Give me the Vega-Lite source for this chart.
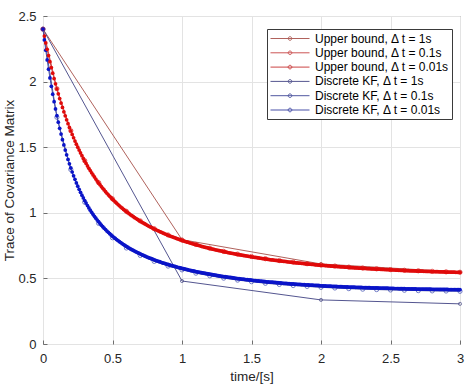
{
"$schema":"https://vega.github.io/schema/vega-lite/v6.json",
"width":417,"height":328,
"autosize":{"type":"none"},
"padding":{"left":43,"top":16,"right":14,"bottom":44},
"config":{"font":"Liberation Sans","view":{"stroke":"#6e6e6e","strokeWidth":1}},
"datasets":{
"coarse":[{"t":0,"U1":2.4,"K1":2.4},{"t":1,"U1":0.795,"K1":0.48},{"t":2,"U1":0.61,"K1":0.336},{"t":3,"U1":0.548,"K1":0.306}],
"mid":[{"t":0,"U01":2.4,"K01":2.4},{"t":0.1,"U01":1.946,"K01":1.728},{"t":0.2,"U01":1.626,"K01":1.33},{"t":0.3,"U01":1.397,"K01":1.081},{"t":0.4,"U01":1.23,"K01":0.92},{"t":0.5,"U01":1.106,"K01":0.81},{"t":0.6,"U01":1.011,"K01":0.732},{"t":0.7,"U01":0.938,"K01":0.675},{"t":0.8,"U01":0.879,"K01":0.63},{"t":0.9,"U01":0.831,"K01":0.594},{"t":1,"U01":0.792,"K01":0.565},{"t":1.1,"U01":0.759,"K01":0.54},{"t":1.2,"U01":0.73,"K01":0.52},{"t":1.3,"U01":0.706,"K01":0.502},{"t":1.4,"U01":0.685,"K01":0.487},{"t":1.5,"U01":0.667,"K01":0.475},{"t":1.6,"U01":0.65,"K01":0.463},{"t":1.7,"U01":0.636,"K01":0.454},{"t":1.8,"U01":0.624,"K01":0.446},{"t":1.9,"U01":0.612,"K01":0.439},{"t":2,"U01":0.602,"K01":0.432},{"t":2.1,"U01":0.594,"K01":0.427},{"t":2.2,"U01":0.586,"K01":0.422},{"t":2.3,"U01":0.579,"K01":0.418},{"t":2.4,"U01":0.573,"K01":0.415},{"t":2.5,"U01":0.567,"K01":0.412},{"t":2.6,"U01":0.562,"K01":0.41},{"t":2.7,"U01":0.558,"K01":0.407},{"t":2.8,"U01":0.554,"K01":0.405},{"t":2.9,"U01":0.55,"K01":0.404},{"t":3,"U01":0.547,"K01":0.402}],
"dense":[
{"t":0,"U001":2.4,"K001":2.4},{"t":0.01,"U001":2.347,"K001":2.318},{"t":0.02,"U001":2.295,"K001":2.239},{"t":0.03,"U001":2.246,"K001":2.165},{"t":0.04,"U001":2.198,"K001":2.095},{"t":0.05,"U001":2.152,"K001":2.028},{"t":0.06,"U001":2.107,"K001":1.964},{"t":0.07,"U001":2.064,"K001":1.904},{"t":0.08,"U001":2.023,"K001":1.847},{"t":0.09,"U001":1.983,"K001":1.792},
{"t":0.1,"U001":1.944,"K001":1.74},{"t":0.11,"U001":1.907,"K001":1.691},{"t":0.12,"U001":1.871,"K001":1.644},{"t":0.13,"U001":1.836,"K001":1.6},{"t":0.14,"U001":1.803,"K001":1.557},{"t":0.15,"U001":1.77,"K001":1.517},{"t":0.16,"U001":1.739,"K001":1.478},{"t":0.17,"U001":1.709,"K001":1.442},{"t":0.18,"U001":1.679,"K001":1.407},{"t":0.19,"U001":1.651,"K001":1.373},
{"t":0.2,"U001":1.624,"K001":1.342},{"t":0.21,"U001":1.597,"K001":1.311},{"t":0.22,"U001":1.572,"K001":1.282},{"t":0.23,"U001":1.547,"K001":1.255},{"t":0.24,"U001":1.523,"K001":1.228},{"t":0.25,"U001":1.5,"K001":1.203},{"t":0.26,"U001":1.478,"K001":1.179},{"t":0.27,"U001":1.456,"K001":1.156},{"t":0.28,"U001":1.435,"K001":1.134},{"t":0.29,"U001":1.414,"K001":1.113},
{"t":0.3,"U001":1.395,"K001":1.093},{"t":0.31,"U001":1.376,"K001":1.074},{"t":0.32,"U001":1.357,"K001":1.055},{"t":0.33,"U001":1.339,"K001":1.037},{"t":0.34,"U001":1.322,"K001":1.02},{"t":0.35,"U001":1.305,"K001":1.004},{"t":0.36,"U001":1.289,"K001":0.988},{"t":0.37,"U001":1.273,"K001":0.973},{"t":0.38,"U001":1.257,"K001":0.959},{"t":0.39,"U001":1.242,"K001":0.945},
{"t":0.4,"U001":1.228,"K001":0.932},{"t":0.41,"U001":1.214,"K001":0.919},{"t":0.42,"U001":1.2,"K001":0.906},{"t":0.43,"U001":1.187,"K001":0.894},{"t":0.44,"U001":1.174,"K001":0.883},{"t":0.45,"U001":1.161,"K001":0.872},{"t":0.46,"U001":1.149,"K001":0.861},{"t":0.47,"U001":1.137,"K001":0.851},{"t":0.48,"U001":1.126,"K001":0.841},{"t":0.49,"U001":1.115,"K001":0.831},
{"t":0.5,"U001":1.104,"K001":0.822},{"t":0.51,"U001":1.093,"K001":0.813},{"t":0.52,"U001":1.083,"K001":0.805},{"t":0.53,"U001":1.073,"K001":0.796},{"t":0.54,"U001":1.063,"K001":0.788},{"t":0.55,"U001":1.053,"K001":0.78},{"t":0.56,"U001":1.044,"K001":0.773},{"t":0.57,"U001":1.035,"K001":0.765},{"t":0.58,"U001":1.026,"K001":0.758},{"t":0.59,"U001":1.018,"K001":0.751},
{"t":0.6,"U001":1.009,"K001":0.744},{"t":0.61,"U001":1.001,"K001":0.738},{"t":0.62,"U001":0.993,"K001":0.731},{"t":0.63,"U001":0.985,"K001":0.725},{"t":0.64,"U001":0.978,"K001":0.719},{"t":0.65,"U001":0.97,"K001":0.713},{"t":0.66,"U001":0.963,"K001":0.708},{"t":0.67,"U001":0.956,"K001":0.702},{"t":0.68,"U001":0.949,"K001":0.697},{"t":0.69,"U001":0.942,"K001":0.692},
{"t":0.7,"U001":0.936,"K001":0.687},{"t":0.71,"U001":0.929,"K001":0.682},{"t":0.72,"U001":0.923,"K001":0.677},{"t":0.73,"U001":0.917,"K001":0.672},{"t":0.74,"U001":0.911,"K001":0.667},{"t":0.75,"U001":0.905,"K001":0.663},{"t":0.76,"U001":0.899,"K001":0.658},{"t":0.77,"U001":0.893,"K001":0.654},{"t":0.78,"U001":0.888,"K001":0.65},{"t":0.79,"U001":0.882,"K001":0.646},
{"t":0.8,"U001":0.877,"K001":0.642},{"t":0.81,"U001":0.872,"K001":0.638},{"t":0.82,"U001":0.867,"K001":0.634},{"t":0.83,"U001":0.862,"K001":0.63},{"t":0.84,"U001":0.857,"K001":0.627},{"t":0.85,"U001":0.852,"K001":0.623},{"t":0.86,"U001":0.847,"K001":0.619},{"t":0.87,"U001":0.843,"K001":0.616},{"t":0.88,"U001":0.838,"K001":0.613},{"t":0.89,"U001":0.834,"K001":0.609},
{"t":0.9,"U001":0.829,"K001":0.606},{"t":0.91,"U001":0.825,"K001":0.603},{"t":0.92,"U001":0.821,"K001":0.6},{"t":0.93,"U001":0.817,"K001":0.597},{"t":0.94,"U001":0.813,"K001":0.594},{"t":0.95,"U001":0.809,"K001":0.591},{"t":0.96,"U001":0.805,"K001":0.588},{"t":0.97,"U001":0.801,"K001":0.585},{"t":0.98,"U001":0.797,"K001":0.582},{"t":0.99,"U001":0.793,"K001":0.58},
{"t":1,"U001":0.79,"K001":0.577},{"t":1.01,"U001":0.786,"K001":0.574},{"t":1.02,"U001":0.783,"K001":0.572},{"t":1.03,"U001":0.779,"K001":0.569},{"t":1.04,"U001":0.776,"K001":0.567},{"t":1.05,"U001":0.773,"K001":0.564},{"t":1.06,"U001":0.769,"K001":0.562},{"t":1.07,"U001":0.766,"K001":0.559},{"t":1.08,"U001":0.763,"K001":0.557},{"t":1.09,"U001":0.76,"K001":0.555},
{"t":1.1,"U001":0.757,"K001":0.552},{"t":1.11,"U001":0.754,"K001":0.55},{"t":1.12,"U001":0.751,"K001":0.548},{"t":1.13,"U001":0.748,"K001":0.546},{"t":1.14,"U001":0.745,"K001":0.544},{"t":1.15,"U001":0.742,"K001":0.542},{"t":1.16,"U001":0.739,"K001":0.54},{"t":1.17,"U001":0.736,"K001":0.538},{"t":1.18,"U001":0.734,"K001":0.536},{"t":1.19,"U001":0.731,"K001":0.534},
{"t":1.2,"U001":0.728,"K001":0.532},{"t":1.21,"U001":0.726,"K001":0.53},{"t":1.22,"U001":0.723,"K001":0.528},{"t":1.23,"U001":0.721,"K001":0.526},{"t":1.24,"U001":0.718,"K001":0.525},{"t":1.25,"U001":0.716,"K001":0.523},{"t":1.26,"U001":0.713,"K001":0.521},{"t":1.27,"U001":0.711,"K001":0.519},{"t":1.28,"U001":0.709,"K001":0.518},{"t":1.29,"U001":0.706,"K001":0.516},
{"t":1.3,"U001":0.704,"K001":0.514},{"t":1.31,"U001":0.702,"K001":0.513},{"t":1.32,"U001":0.7,"K001":0.511},{"t":1.33,"U001":0.697,"K001":0.51},{"t":1.34,"U001":0.695,"K001":0.508},{"t":1.35,"U001":0.693,"K001":0.507},{"t":1.36,"U001":0.691,"K001":0.505},{"t":1.37,"U001":0.689,"K001":0.504},{"t":1.38,"U001":0.687,"K001":0.502},{"t":1.39,"U001":0.685,"K001":0.501},
{"t":1.4,"U001":0.683,"K001":0.499},{"t":1.41,"U001":0.681,"K001":0.498},{"t":1.42,"U001":0.679,"K001":0.497},{"t":1.43,"U001":0.677,"K001":0.495},{"t":1.44,"U001":0.675,"K001":0.494},{"t":1.45,"U001":0.673,"K001":0.493},{"t":1.46,"U001":0.672,"K001":0.491},{"t":1.47,"U001":0.67,"K001":0.49},{"t":1.48,"U001":0.668,"K001":0.489},{"t":1.49,"U001":0.666,"K001":0.488},
{"t":1.5,"U001":0.665,"K001":0.487},{"t":1.51,"U001":0.663,"K001":0.485},{"t":1.52,"U001":0.661,"K001":0.484},{"t":1.53,"U001":0.66,"K001":0.483},{"t":1.54,"U001":0.658,"K001":0.482},{"t":1.55,"U001":0.656,"K001":0.481},{"t":1.56,"U001":0.655,"K001":0.48},{"t":1.57,"U001":0.653,"K001":0.479},{"t":1.58,"U001":0.651,"K001":0.478},{"t":1.59,"U001":0.65,"K001":0.477},
{"t":1.6,"U001":0.648,"K001":0.475},{"t":1.61,"U001":0.647,"K001":0.474},{"t":1.62,"U001":0.645,"K001":0.473},{"t":1.63,"U001":0.644,"K001":0.472},{"t":1.64,"U001":0.642,"K001":0.471},{"t":1.65,"U001":0.641,"K001":0.471},{"t":1.66,"U001":0.64,"K001":0.47},{"t":1.67,"U001":0.638,"K001":0.469},{"t":1.68,"U001":0.637,"K001":0.468},{"t":1.69,"U001":0.635,"K001":0.467},
{"t":1.7,"U001":0.634,"K001":0.466},{"t":1.71,"U001":0.633,"K001":0.465},{"t":1.72,"U001":0.631,"K001":0.464},{"t":1.73,"U001":0.63,"K001":0.463},{"t":1.74,"U001":0.629,"K001":0.462},{"t":1.75,"U001":0.628,"K001":0.462},{"t":1.76,"U001":0.626,"K001":0.461},{"t":1.77,"U001":0.625,"K001":0.46},{"t":1.78,"U001":0.624,"K001":0.459},{"t":1.79,"U001":0.623,"K001":0.458},
{"t":1.8,"U001":0.622,"K001":0.458},{"t":1.81,"U001":0.62,"K001":0.457},{"t":1.82,"U001":0.619,"K001":0.456},{"t":1.83,"U001":0.618,"K001":0.455},{"t":1.84,"U001":0.617,"K001":0.455},{"t":1.85,"U001":0.616,"K001":0.454},{"t":1.86,"U001":0.615,"K001":0.453},{"t":1.87,"U001":0.614,"K001":0.453},{"t":1.88,"U001":0.612,"K001":0.452},{"t":1.89,"U001":0.611,"K001":0.451},
{"t":1.9,"U001":0.61,"K001":0.451},{"t":1.91,"U001":0.609,"K001":0.45},{"t":1.92,"U001":0.608,"K001":0.449},{"t":1.93,"U001":0.607,"K001":0.449},{"t":1.94,"U001":0.606,"K001":0.448},{"t":1.95,"U001":0.605,"K001":0.447},{"t":1.96,"U001":0.604,"K001":0.447},{"t":1.97,"U001":0.603,"K001":0.446},{"t":1.98,"U001":0.602,"K001":0.446},{"t":1.99,"U001":0.601,"K001":0.445},
{"t":2,"U001":0.6,"K001":0.444},{"t":2.01,"U001":0.6,"K001":0.444},{"t":2.02,"U001":0.599,"K001":0.443},{"t":2.03,"U001":0.598,"K001":0.443},{"t":2.04,"U001":0.597,"K001":0.442},{"t":2.05,"U001":0.596,"K001":0.442},{"t":2.06,"U001":0.595,"K001":0.441},{"t":2.07,"U001":0.594,"K001":0.441},{"t":2.08,"U001":0.593,"K001":0.44},{"t":2.09,"U001":0.592,"K001":0.44},
{"t":2.1,"U001":0.592,"K001":0.439},{"t":2.11,"U001":0.591,"K001":0.439},{"t":2.12,"U001":0.59,"K001":0.438},{"t":2.13,"U001":0.589,"K001":0.438},{"t":2.14,"U001":0.588,"K001":0.437},{"t":2.15,"U001":0.588,"K001":0.437},{"t":2.16,"U001":0.587,"K001":0.436},{"t":2.17,"U001":0.586,"K001":0.436},{"t":2.18,"U001":0.585,"K001":0.435},{"t":2.19,"U001":0.585,"K001":0.435},
{"t":2.2,"U001":0.584,"K001":0.434},{"t":2.21,"U001":0.583,"K001":0.434},{"t":2.22,"U001":0.582,"K001":0.434},{"t":2.23,"U001":0.582,"K001":0.433},{"t":2.24,"U001":0.581,"K001":0.433},{"t":2.25,"U001":0.58,"K001":0.432},{"t":2.26,"U001":0.58,"K001":0.432},{"t":2.27,"U001":0.579,"K001":0.432},{"t":2.28,"U001":0.578,"K001":0.431},{"t":2.29,"U001":0.578,"K001":0.431},
{"t":2.3,"U001":0.577,"K001":0.43},{"t":2.31,"U001":0.576,"K001":0.43},{"t":2.32,"U001":0.576,"K001":0.43},{"t":2.33,"U001":0.575,"K001":0.429},{"t":2.34,"U001":0.574,"K001":0.429},{"t":2.35,"U001":0.574,"K001":0.429},{"t":2.36,"U001":0.573,"K001":0.428},{"t":2.37,"U001":0.572,"K001":0.428},{"t":2.38,"U001":0.572,"K001":0.428},{"t":2.39,"U001":0.571,"K001":0.427},
{"t":2.4,"U001":0.571,"K001":0.427},{"t":2.41,"U001":0.57,"K001":0.427},{"t":2.42,"U001":0.57,"K001":0.426},{"t":2.43,"U001":0.569,"K001":0.426},{"t":2.44,"U001":0.568,"K001":0.426},{"t":2.45,"U001":0.568,"K001":0.426},{"t":2.46,"U001":0.567,"K001":0.425},{"t":2.47,"U001":0.567,"K001":0.425},{"t":2.48,"U001":0.566,"K001":0.425},{"t":2.49,"U001":0.566,"K001":0.424},
{"t":2.5,"U001":0.565,"K001":0.424},{"t":2.51,"U001":0.565,"K001":0.424},{"t":2.52,"U001":0.564,"K001":0.424},{"t":2.53,"U001":0.564,"K001":0.423},{"t":2.54,"U001":0.563,"K001":0.423},{"t":2.55,"U001":0.563,"K001":0.423},{"t":2.56,"U001":0.562,"K001":0.422},{"t":2.57,"U001":0.562,"K001":0.422},{"t":2.58,"U001":0.561,"K001":0.422},{"t":2.59,"U001":0.561,"K001":0.422},
{"t":2.6,"U001":0.56,"K001":0.422},{"t":2.61,"U001":0.56,"K001":0.421},{"t":2.62,"U001":0.559,"K001":0.421},{"t":2.63,"U001":0.559,"K001":0.421},{"t":2.64,"U001":0.558,"K001":0.421},{"t":2.65,"U001":0.558,"K001":0.42},{"t":2.66,"U001":0.558,"K001":0.42},{"t":2.67,"U001":0.557,"K001":0.42},{"t":2.68,"U001":0.557,"K001":0.42},{"t":2.69,"U001":0.556,"K001":0.419},
{"t":2.7,"U001":0.556,"K001":0.419},{"t":2.71,"U001":0.555,"K001":0.419},{"t":2.72,"U001":0.555,"K001":0.419},{"t":2.73,"U001":0.555,"K001":0.419},{"t":2.74,"U001":0.554,"K001":0.418},{"t":2.75,"U001":0.554,"K001":0.418},{"t":2.76,"U001":0.553,"K001":0.418},{"t":2.77,"U001":0.553,"K001":0.418},{"t":2.78,"U001":0.553,"K001":0.418},{"t":2.79,"U001":0.552,"K001":0.418},
{"t":2.8,"U001":0.552,"K001":0.417},{"t":2.81,"U001":0.552,"K001":0.417},{"t":2.82,"U001":0.551,"K001":0.417},{"t":2.83,"U001":0.551,"K001":0.417},{"t":2.84,"U001":0.551,"K001":0.417},{"t":2.85,"U001":0.55,"K001":0.416},{"t":2.86,"U001":0.55,"K001":0.416},{"t":2.87,"U001":0.55,"K001":0.416},{"t":2.88,"U001":0.549,"K001":0.416},{"t":2.89,"U001":0.549,"K001":0.416},
{"t":2.9,"U001":0.548,"K001":0.416},{"t":2.91,"U001":0.548,"K001":0.416},{"t":2.92,"U001":0.548,"K001":0.415},{"t":2.93,"U001":0.548,"K001":0.415},{"t":2.94,"U001":0.547,"K001":0.415},{"t":2.95,"U001":0.547,"K001":0.415},{"t":2.96,"U001":0.547,"K001":0.415},{"t":2.97,"U001":0.546,"K001":0.415},{"t":2.98,"U001":0.546,"K001":0.415},{"t":2.99,"U001":0.546,"K001":0.414},
{"t":3,"U001":0.545,"K001":0.414}
]},
"encoding":{
"x":{"field":"t","type":"quantitative","scale":{"domain":[0,3],"nice":false},
"axis":{"title":"time/[s]","values":[0,0.5,1,1.5,2,2.5,3],"format":".1~f","domain":false,"grid":true,"gridColor":"#e3e3e3","tickColor":"#6e6e6e","tickSize":-4,"labelPadding":12,"labelFontSize":13,"labelColor":"#262626","labelFlush":false,"titleFontSize":13.5,"titleFontWeight":"normal","titleColor":"#262626","titlePadding":4}},
"y":{"field":"v","type":"quantitative","scale":{"domain":[0,2.5],"nice":false},
"axis":{"title":"Trace of Covariance Matrix","values":[0,0.5,1,1.5,2,2.5],"format":".1~f","domain":false,"grid":true,"gridColor":"#e3e3e3","tickColor":"#6e6e6e","tickSize":-4,"labelPadding":11,"labelFontSize":13,"labelColor":"#262626","labelFlush":false,"titleFontSize":13.5,"titleFontWeight":"normal","titleColor":"#262626","titlePadding":1}}
},
"layer":[
{"data":{"name":"coarse"},"transform":[{"fold":["U1","K1"],"as":["s","v"]}],"mark":{"type":"line","strokeWidth":1},
"encoding":{"color":{"field":"s","type":"nominal","scale":{"domain":["U1","U01","U001","K1","K01","K001"],"range":["#b0625c","#cc5555","#cc4444","#545690","#5058a0","#4850a8"]},
"legend":{"orient":"none","legendX":224,"legendY":13,"title":null,"symbolType":"M-3.25,0H3.25M0.3,0A0.3,0.3,0,1,1,-0.3,0A0.3,0.3,0,1,1,0.3,0","symbolSize":144,"symbolOffset":13.5,"symbolStrokeWidth":1,"labelFont":"Liberation Sans","labelFontSize":12,"labelColor":"#000000","labelOffset":18.5,"rowPadding":1.3,"padding":3,"strokeColor":"#3a3a3a","fillColor":"#ffffff",
"labelExpr":"(datum.value=='U1'?'Upper bound, Δ t = 1s':datum.value=='U01'?'Upper bound, Δ t = 0.1s':datum.value=='U001'?'Upper bound, Δ t = 0.01s':datum.value=='K1'?'Discrete KF, Δ t = 1s':datum.value=='K01'?'Discrete KF, Δ t = 0.1s':'Discrete KF, Δ t = 0.01s')+'\u00a0\u00a0\u00a0'"}}}},
{"data":{"name":"coarse"},"transform":[{"fold":["U1","K1"],"as":["s","v"]}],"mark":{"type":"point","filled":false,"size":10,"strokeWidth":1},
"encoding":{"stroke":{"field":"s","type":"nominal","scale":{"domain":["U1","U01","K1","K01"],"range":["#a0524c","#e01c1c","#4a4c88","#3848b0"]},"legend":null}}},
{"data":{"name":"mid"},"transform":[{"fold":["U01","K01"],"as":["s","v"]}],"mark":{"type":"line","strokeWidth":1},
"encoding":{"color":{"field":"s","type":"nominal"}}},
{"data":{"name":"mid"},"transform":[{"fold":["U01","K01"],"as":["s","v"]}],"mark":{"type":"point","filled":false,"size":18,"strokeWidth":1},
"encoding":{"stroke":{"field":"s","type":"nominal","legend":null}}},
{"data":{"name":"dense"},"transform":[{"fold":["U001","K001"],"as":["s","v"]}],"mark":{"type":"line","strokeWidth":1},
"encoding":{"color":{"field":"s","type":"nominal"}}},
{"data":{"name":"dense"},"transform":[{"fold":["U001","K001"],"as":["s","v"]}],"mark":{"type":"point","filled":true,"size":14,"strokeWidth":0,"opacity":1},
"encoding":{"fill":{"field":"s","type":"nominal","scale":{"domain":["U001","K001"],"range":["#e00a0a","#0a14c8"]},"legend":null}}}
]
}
